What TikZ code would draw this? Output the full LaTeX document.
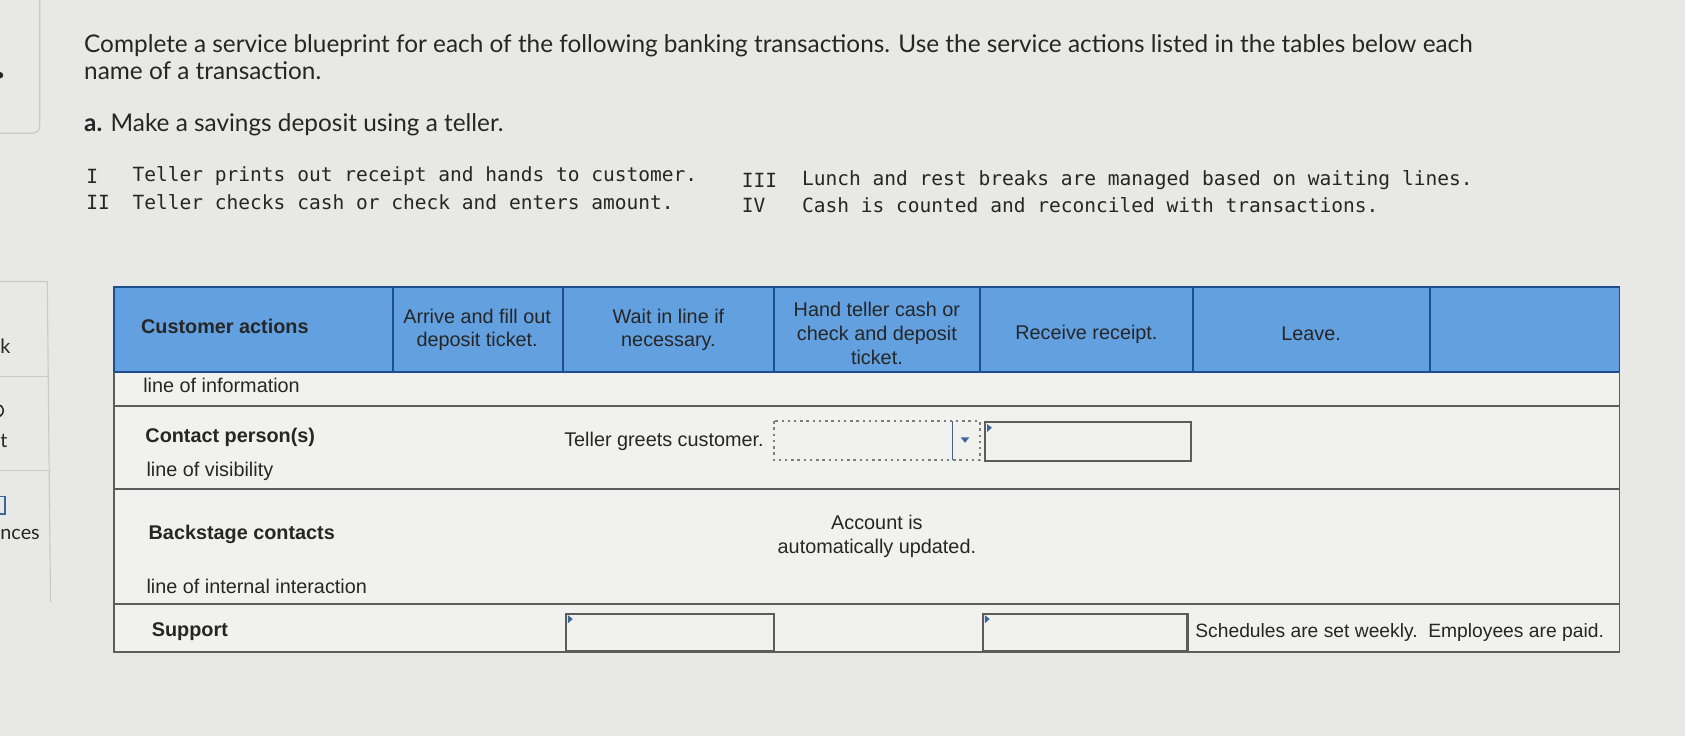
\documentclass[tikz,border=0pt]{standalone}
\usepackage{fontspec}
\setmainfont{Liberation Sans}
\newfontfamily\questfont{Lato}
\newfontfamily\listfont{DejaVu Sans Mono}
\usetikzlibrary{positioning}
\definecolor{PageGray}{HTML}{E8E8E7}
\definecolor{SheetWhite}{HTML}{F1F1F0}
\definecolor{HeadBlue}{HTML}{62A0E0}
\definecolor{HeadEdge}{HTML}{1F4E8C}
\definecolor{RuleGray}{HTML}{5C5C5C}
\definecolor{FaintGray}{HTML}{C9C9C8}
\definecolor{Ink}{HTML}{262626}
\definecolor{MarkBlue}{HTML}{3C679C}

\begin{document}
\begin{tikzpicture}[x=0.02cm,y=-0.02cm,
    every node/.style={text=Ink,inner sep=0pt,font=\fontsize{10.5}{12.6}\selectfont},
    quest/.style={anchor=west,font=\questfont\fontsize{12.9}{15}\selectfont},
    listline/.style={anchor=west,font=\listfont\fontsize{10.35}{13}\selectfont},
    headtext/.style={align=center},
    lanebold/.style={anchor=west,font=\bfseries\fontsize{10.5}{12.6}\selectfont},
    lanetext/.style={anchor=west},
    answerbox/.style={draw=RuleGray,line width=1.1pt,fill=SheetWhite},
    boxmark/.style={fill=MarkBlue,draw=none}]
      \useasboundingbox (0,0) rectangle (1568,685);
      \fill[PageGray] (0,0) rectangle (1568,685);

      % neighbouring page at the left edge
      \draw[FaintGray,line width=0.6pt,rounded corners=4pt] (0,124) -- (37,124) -- (37,0);
      \fill[Ink] (0,70) circle (3);
      \draw[FaintGray,line width=0.6pt] (0,262) -- (44,262) -- (47,560);
      \draw[FaintGray,line width=0.6pt] (0,350) -- (46,350);
      \draw[FaintGray,line width=0.6pt] (0,438) -- (47,438);
      \node[anchor=west,font=\questfont\fontsize{10.5}{12}\selectfont] (fragk) at (0,322) {k};
      \node[anchor=west,font=\questfont\fontsize{10.5}{12}\selectfont] (fragt) at (0,410) {t};
      \node[anchor=west,font=\questfont\fontsize{10.5}{12}\selectfont] (fragnces) at (0,497) {nces};
      \draw[Ink,line width=0.8pt] (0,377) arc (-60:60:6);
      \draw[MarkBlue,line width=1pt] (0,462) -- (5,462) -- (5,478) -- (0,478);

      % question
      \node[quest] (title1) at (78,43) {Complete a service blueprint for each of the following banking transactions. Use the service actions listed in the tables below each};
      \node[quest] (title2) at (78,66) {name of a transaction.};
      \node[quest] (parta) at (78,116) {\textbf{a.} Make a savings deposit using a teller.};

      \node[listline] (num1) at (80,164) {I};
      \node[listline] (act1) at (123,164) {Teller prints out receipt and hands to customer.};
      \node[listline] (num2) at (80,188) {II};
      \node[listline] (act2) at (123,188) {Teller checks cash or check and enters amount.};
      \node[listline] (num3) at (690,168) {III};
      \node[listline] (act3) at (746,168) {Lunch and rest breaks are managed based on waiting lines.};
      \node[listline] (num4) at (690,191) {IV};
      \node[listline] (act4) at (746,191) {Cash is counted and reconciled with transactions.};

      % blueprint table
      \fill[SheetWhite] (106,346) rectangle (1507,607);
      \draw[HeadEdge,fill=HeadBlue,line width=1pt] (106,267) rectangle (1507,346);
      \foreach \cx in {366,524,720,912,1110,1331} {
        \draw[HeadEdge,line width=0.9pt] (\cx,267) -- (\cx,346);
      }
      \draw[RuleGray,line width=0.9pt] (106,346) -- (106,607) -- (1507,607) -- (1507,346);
      \foreach \ry in {378,455,562} {
        \draw[RuleGray,line width=0.9pt] (106,\ry) -- (1507,\ry);
      }

      \node[lanebold] (custact) at (131,304) {Customer actions};
      \node[headtext] (arrive) at (444,307) {Arrive and fill out\\deposit ticket.};
      \node[headtext] (wait) at (622,307) {Wait in line if\\necessary.};
      \node[headtext] (hand) at (816,310) {Hand teller cash or\\check and deposit\\ticket.};
      \node[headtext] (receive) at (1011,311) {Receive receipt.};
      \node[headtext] (leave) at (1220,311) {Leave.};

      \node[lanetext] (lineinfo) at (133,359) {line of information};
      \node[lanebold] (contact) at (135,407) {Contact person(s)};
      \node[lanetext] (linevis) at (136,439) {line of visibility};
      \node[anchor=east] (greets) at (711,411) {Teller greets customer.};

      % drop-down field and answer box
      \draw[RuleGray!80,line width=1.3pt,dotted,fill=SheetWhite] (720,392) rectangle (912,428);
      \draw[MarkBlue!60!RuleGray,line width=0.5pt] (886,392) -- (886,428);
      \fill[MarkBlue] (894,407) -- (902,407) -- (898,412) -- cycle;
      \draw[answerbox] (917,393) rectangle (1108,429);
      \fill[boxmark] (918.5,394.5) -- (918.5,402) -- (923,398) -- cycle;

      \node[lanebold] (backstage) at (138,497) {Backstage contacts};
      \node[headtext] (account) at (816,499) {Account is\\automatically updated.};
      \node[lanetext] (lineint) at (136,546) {line of internal interaction};

      \node[lanebold] (support) at (141,588) {Support};
      \draw[answerbox] (527,571) rectangle (720,606);
      \fill[boxmark] (528.5,572.5) -- (528.5,580) -- (533,576) -- cycle;
      \draw[answerbox] (915,571) rectangle (1105,606);
      \fill[boxmark] (916.5,572.5) -- (916.5,580) -- (921,576) -- cycle;
      \node[lanetext,font=\fontsize{10.2}{12.2}\selectfont] (schedules) at (1112,589) {Schedules are set weekly.\ \ Employees are paid.};
    \end{tikzpicture}
\end{document}
